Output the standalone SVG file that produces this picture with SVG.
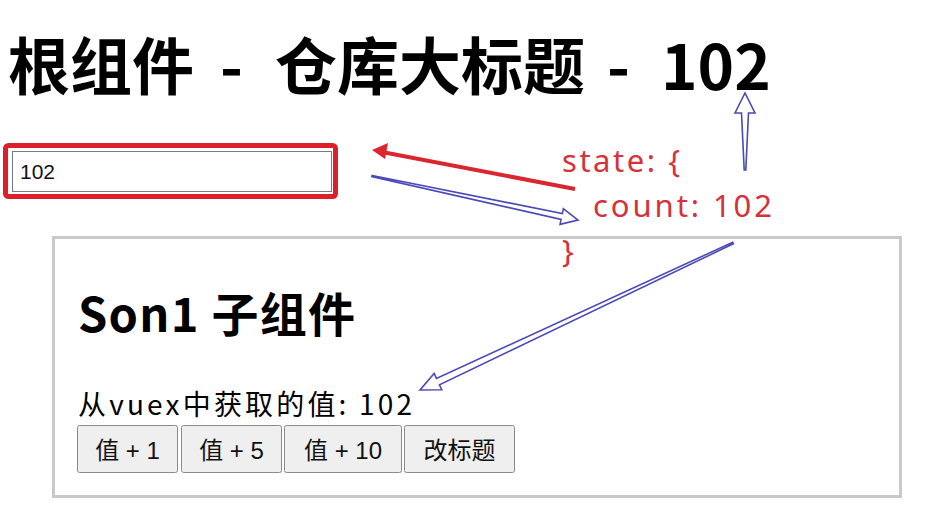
<svg xmlns="http://www.w3.org/2000/svg" width="932" height="510" viewBox="0 0 932 510">
<style>
.cjk{font-family:"Noto Sans CJK SC","Noto Sans",sans-serif}
.ui{font-family:"Liberation Sans","Noto Sans CJK SC",sans-serif}
.red{fill:#d6313a;font-family:"Noto Sans","Noto Sans CJK SC",sans-serif;font-size:31px}
.hollow{fill:#ffffff;stroke:#4a4ab8;stroke-width:1.6;stroke-linejoin:miter}
.btn{fill:#efefef;stroke:#8a8a8a;stroke-width:1}
.btnt{font-size:24px;fill:#111;text-anchor:middle}
</style>
<rect width="932" height="510" fill="#ffffff"/>
<g id="title">
<text class="cjk" font-size="62" font-weight="700" fill="#000" y="90"><tspan x="8">根组件</tspan><tspan x="206"> - </tspan><tspan x="275">仓库大标题</tspan><tspan x="593"> - </tspan><tspan x="661">102</tspan></text>
</g>
<g id="input">
<rect x="5.5" y="145.5" width="330" height="51" rx="3" fill="#ffffff" stroke="#dc1f2b" stroke-width="5"/>
<rect x="12.5" y="151.5" width="319" height="40" fill="#ffffff" stroke="#7a7a7a" stroke-width="1"/>
<text class="ui" x="20" y="179" font-size="21" fill="#111">102</text>
</g>
<g id="state">
<text class="red" x="562" y="172" textLength="118" lengthAdjust="spacing">state:  {</text>
<text class="red" x="593" y="217" textLength="179" lengthAdjust="spacing">count:  102</text>
<text class="red" x="562" y="262">}</text>
</g>
<g id="son1">
<rect x="53.5" y="237.5" width="847" height="259" fill="none" stroke="#c9c9c9" stroke-width="3"/>
<text class="cjk" x="78" y="332" font-size="47" font-weight="700" fill="#000" textLength="277" lengthAdjust="spacing">Son1 子组件</text>
<text class="cjk" x="78" y="415" font-size="28" fill="#000" textLength="334" lengthAdjust="spacing">从vuex中获取的值: 102</text>
<g id="btn1"><rect class="btn" x="77.5" y="425.5" width="100" height="47" rx="2"/><text class="ui btnt" x="127.5" y="459">值 + 1</text></g>
<g id="btn2"><rect class="btn" x="181.5" y="425.5" width="100" height="47" rx="2"/><text class="ui btnt" x="231.5" y="459">值 + 5</text></g>
<g id="btn3"><rect class="btn" x="284.5" y="425.5" width="117" height="47" rx="2"/><text class="ui btnt" x="343" y="459">值 + 10</text></g>
<g id="btn4"><rect class="btn" x="404.5" y="425.5" width="110" height="47" rx="2"/><text class="ui btnt" x="459.5" y="459">改标题</text></g>
</g>
<g id="connectors">
<line x1="575" y1="189" x2="382" y2="152" stroke="#d9262f" stroke-width="4"/>
<path d="M372,150 L388,143 L385,159 z" fill="#d9262f"/>
<g transform="translate(372,176) rotate(12.06)">
<path class="hollow" d="M0,-0.6 L194,-3 L194,-8 L210.6,0 L194,8 L194,3 L0,0.6 z"/>
</g>
<g transform="translate(745,170) rotate(-90)">
<path class="hollow" d="M0,-0.8 L57,-3.5 L57,-10 L77,0 L57,10 L57,3.5 L0,0.8 z"/>
</g>
<g transform="translate(733,243) rotate(154.84)">
<path class="hollow" d="M0,-0.8 L326,-3.5 L326,-9 L345.8,0 L326,9 L326,3.5 L0,0.8 z"/>
</g>
</g>
</svg>
